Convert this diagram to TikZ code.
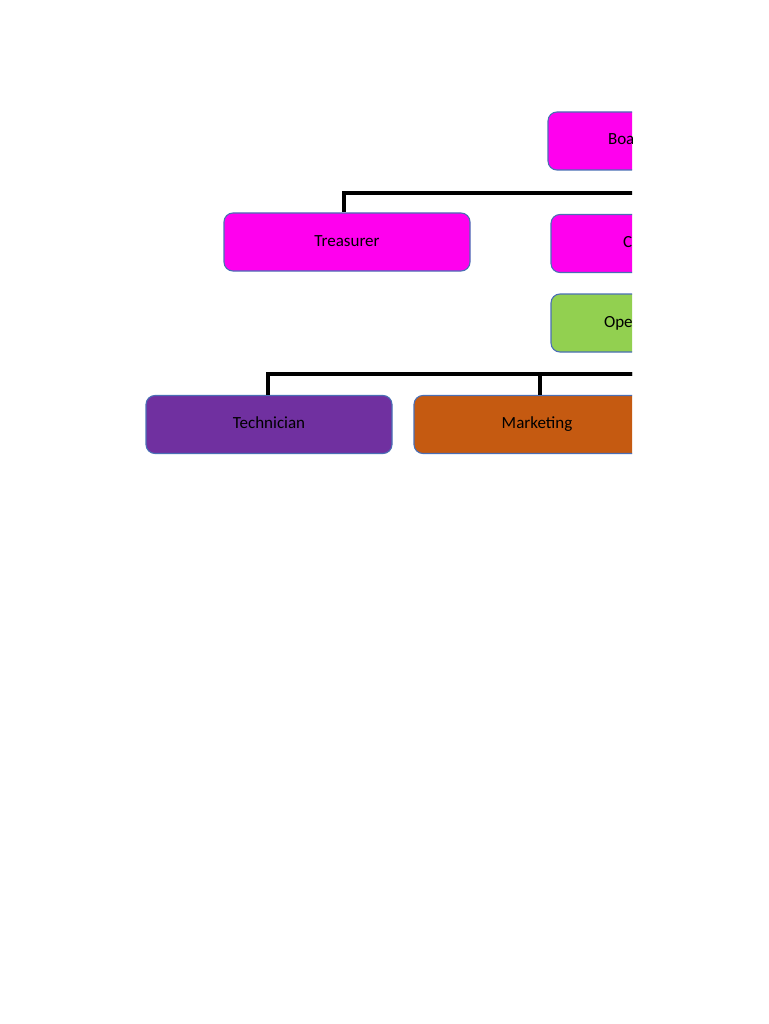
\documentclass[tikz,border=0pt]{standalone}
\usepackage{fontspec}
\setmainfont{Carlito}
\definecolor{boxline}{HTML}{4A6FB5}
\definecolor{pinkfill}{HTML}{FF00EE}
\definecolor{greenfill}{HTML}{92D050}
\definecolor{purplefill}{HTML}{7030A0}
\definecolor{orangefill}{HTML}{C55A11}
\begin{document}
\begin{tikzpicture}[x=1pt,y=-1pt,
  post/.style={draw=boxline,line width=1.1pt,rounded corners=9pt,minimum width=246pt,minimum height=58pt,inner sep=0pt,text height=11pt,text depth=3pt,font=\fontsize{17}{20}\selectfont},
  link/.style={black,line width=4pt}]
\useasboundingbox[fill=white] (0,0) rectangle (768,1024);
\begin{scope}
\clip (0,0) rectangle (632,1024);
\node[post,fill=pinkfill,text width=126pt,align=left](board) at (671,141) {Boa};
\node[post,fill=pinkfill](treas) at (347,242) {Treasurer};
\node[post,fill=pinkfill,text width=102pt,align=left](chair) at (674,243.5) {C};
\node[post,fill=greenfill,text width=140pt,align=left](oper) at (674,323) {Ope};
\node[post,fill=purplefill](tech) at (269,424.5) {Technician};
\node[post,fill=orangefill](market) at (537,424.5) {Marketing};

\draw[link] (board.south) -- ++(0,22) -| ([xshift=-3pt]treas.north);
\draw[link] (board.south) -- ++(0,22) -| (chair.north);
\draw[link] (chair.south) -- (oper.north);
\draw[link] (oper.south) -- ++(0,21) -| ([xshift=-1.5pt]tech.north);
\draw[link] (oper.south) -- ++(0,21) -| ([xshift=3pt]market.north);
\end{scope}
\end{tikzpicture}
\end{document}
